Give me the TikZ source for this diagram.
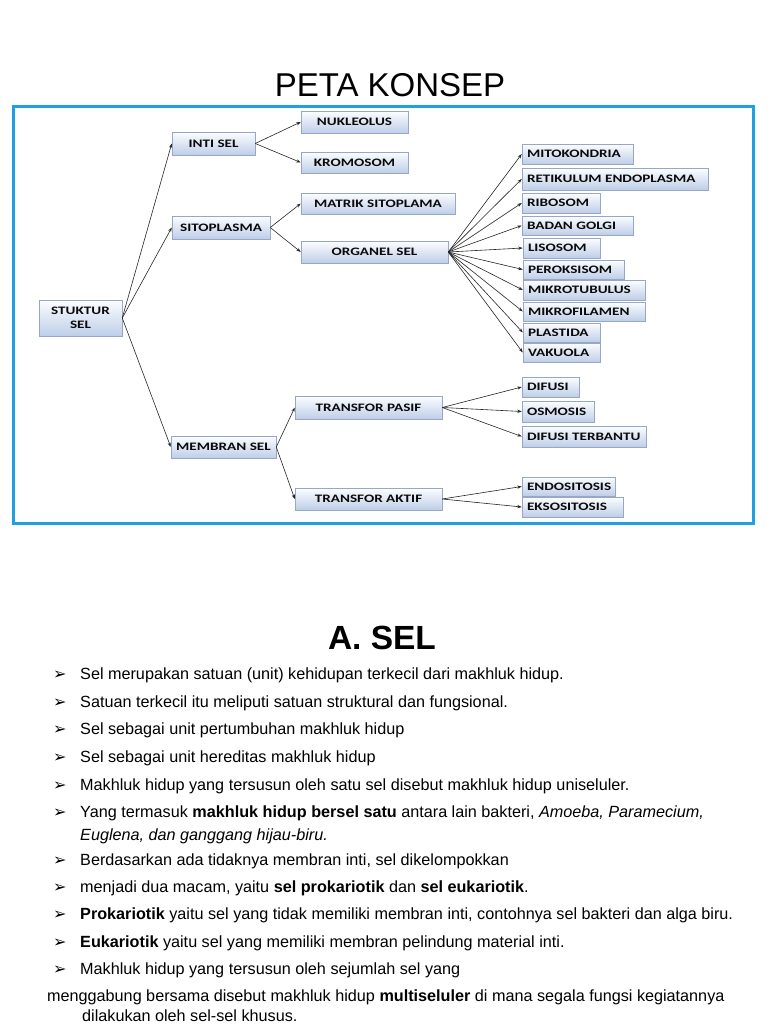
\documentclass[tikz,border=0pt]{standalone}
\usepackage{fontspec}
\usepackage{graphicx}
\setmainfont{Liberation Sans}
\newfontfamily\boxfont{Carlito}
\newfontfamily\bulletfont{DejaVu Sans}
\usetikzlibrary{arrows.meta,shadows}

\definecolor{frameblue}{RGB}{30,160,225}
\definecolor{boxtop}{RGB}{252,253,255}
\definecolor{boxbot}{RGB}{190,206,232}
\definecolor{boxline}{RGB}{150,168,198}
\definecolor{txt}{RGB}{10,10,10}

\tikzset{
  cbox/.style={draw=boxline, line width=0.5pt, top color=boxtop, bottom color=boxbot,
    inner sep=0pt, font=\boxfont\bfseries\fontsize{11.4}{12.5}\selectfont, text=txt,
    drop shadow={shadow xshift=1.3pt, shadow yshift=-1.3pt, opacity=0.35, fill=gray},
    align=center},
  arr/.style={-{Stealth[length=4.5pt,width=3.2pt]}, line width=0.6pt, draw=black!85},
  bodytext/.style={anchor=base west, inner sep=0pt, font=\fontsize{16.2}{19}\selectfont, text=black},
  bul/.style={anchor=base west, inner sep=0pt, font=\bulletfont\fontsize{16}{18}\selectfont, text=black},
}
\newcommand{\sx}[1]{\raisebox{-1.3pt}{\scalebox{1.33}[1]{#1}}}
\newcommand{\cnode}[6]{%
  \pgfmathsetmacro\cw{#4-#2}\pgfmathsetmacro\ch{#5-#3}%
  \node[cbox, minimum width=\cw pt, minimum height=\ch pt] (#1) at ({(#2+#4)/2},{(#3+#5)/2}) {\sx{#6}};}
\newcommand{\lnode}[6]{%
  \pgfmathsetmacro\cw{#4-#2}\pgfmathsetmacro\ch{#5-#3}\pgfmathsetmacro\tw{#4-#2-10}%
  \node[cbox, minimum width=\cw pt, minimum height=\ch pt, text width=\tw pt, align=flush left] (#1) at ({(#2+#4)/2},{(#3+#5)/2}) {\sx{#6}};}

\begin{document}
\begin{tikzpicture}[x=1pt,y=-1pt]
\useasboundingbox (0,0) rectangle (768,1024);
\fill[white] (0,0) rectangle (768,1024);

% title
\node[anchor=base, inner sep=0pt, font=\fontsize{33}{36}\selectfont] (title) at (390,97) {PETA KONSEP};

% frame
\draw[frameblue, line width=3pt] (13,107) rectangle (753,523);

% boxes
\node[cbox, minimum width=83pt, minimum height=36pt, font=\boxfont\bfseries\fontsize{11.4}{14}\selectfont] (stuktur) at (80.5,318) {\sx{STUKTUR}\\\sx{SEL}};
\cnode{inti}{172}{132}{255}{155}{INTI SEL}
\cnode{sito}{172}{216}{270}{239}{SITOPLASMA}
\cnode{membran}{171}{436}{276}{458}{MEMBRAN SEL}
\cnode{nukleolus}{301}{111}{408}{133}{NUKLEOLUS}
\cnode{kromosom}{301}{152}{408}{173}{KROMOSOM}
\cnode{matrik}{301}{193}{455}{214}{MATRIK SITOPLAMA}
\cnode{organel}{301}{241}{448}{263}{ORGANEL SEL}
\cnode{pasif}{295}{396}{442}{419}{TRANSFOR PASIF}
\cnode{aktif}{295}{488}{442}{510}{TRANSFOR AKTIF}

\lnode{mito}{522}{144}{633}{164}{MITOKONDRIA}
\lnode{reti}{522}{168}{708}{190}{RETIKULUM ENDOPLASMA}
\lnode{ribo}{522}{193}{600}{213}{RIBOSOM}
\lnode{golgi}{522}{216}{633}{235}{BADAN GOLGI}
\lnode{liso}{523}{238}{600}{258}{LISOSOM}
\lnode{perok}{523}{260}{624}{279}{PEROKSISOM}
\lnode{tubul}{523}{280}{645}{300}{MIKROTUBULUS}
\lnode{filam}{523}{302}{645}{321}{MIKROFILAMEN}
\lnode{plast}{523}{323}{600}{342}{PLASTIDA}
\lnode{vakuo}{523}{343}{600}{362}{VAKUOLA}
\lnode{difusi}{522}{377}{579}{397}{DIFUSI}
\lnode{osmo}{522}{401}{594}{422}{OSMOSIS}
\lnode{terb}{522}{426}{646}{447}{DIFUSI TERBANTU}
\lnode{endo}{522}{477}{615}{496}{ENDOSITOSIS}
\lnode{ekso}{522}{497}{623}{517}{EKSOSITOSIS}

% arrows
\foreach \t in {inti,sito,membran} \draw[arr] (stuktur.east) -- (\t.west);
\foreach \t in {nukleolus,kromosom} \draw[arr] (inti.east) -- (\t.west);
\foreach \t in {matrik,organel} \draw[arr] (sito.east) -- (\t.west);
\foreach \t in {pasif,aktif} \draw[arr] (membran.east) -- (\t.west);
\foreach \t in {mito,reti,ribo,golgi,liso,perok,tubul,filam,plast,vakuo} \draw[arr] (organel.east) -- (\t.west);
\foreach \t in {difusi,osmo,terb} \draw[arr] (pasif.east) -- (\t.west);
\foreach \t in {endo,ekso} \draw[arr] (aktif.east) -- (\t.west);

% section heading
\node[anchor=base, inner sep=0pt, font=\bfseries\fontsize{33.5}{36}\selectfont] (asel) at (382,649) {A. SEL};

% bullets
\foreach \y [count=\i] in {679.5,707,734.5,762,790,817,865,892,919.5,947,974.5}
  \node[bul] (b\i) at (53,\y) {➢};

\node[bodytext] (l1) at (80,679.5) {Sel merupakan satuan (unit) kehidupan terkecil dari makhluk hidup.};
\node[bodytext] (l2) at (80,707) {Satuan terkecil itu meliputi satuan struktural dan fungsional.};
\node[bodytext] (l3) at (80,734.5) {Sel sebagai unit pertumbuhan makhluk hidup};
\node[bodytext] (l4) at (80,762) {Sel sebagai unit hereditas makhluk hidup};
\node[bodytext] (l5) at (80,790) {Makhluk hidup yang tersusun oleh satu sel disebut makhluk hidup uniseluler.};
\node[bodytext] (l6) at (80,817) {Yang termasuk \textbf{makhluk hidup bersel satu} antara lain bakteri, \textit{Amoeba, Paramecium,}};
\node[bodytext] (l6b) at (80,840) {\textit{Euglena, dan ganggang hijau-biru.}};
\node[bodytext] (l7) at (80,865) {Berdasarkan ada tidaknya membran inti, sel dikelompokkan};
\node[bodytext] (l8) at (80,892) {menjadi dua macam, yaitu \textbf{sel prokariotik} dan \textbf{sel eukariotik}.};
\node[bodytext] (l9) at (80,919.5) {\textbf{Prokariotik} yaitu sel yang tidak memiliki membran inti, contohnya sel bakteri dan alga biru.};
\node[bodytext] (l10) at (80,947) {\textbf{Eukariotik} yaitu sel yang memiliki membran pelindung material inti.};
\node[bodytext] (l11) at (80,974.5) {Makhluk hidup yang tersusun oleh sejumlah sel yang};
\node[bodytext] (l12) at (47,1001) {menggabung bersama disebut makhluk hidup \textbf{multiseluler} di mana segala fungsi kegiatannya};
\node[bodytext] (l12b) at (82,1021) {dilakukan oleh sel-sel khusus.};
\end{tikzpicture}
\end{document}
